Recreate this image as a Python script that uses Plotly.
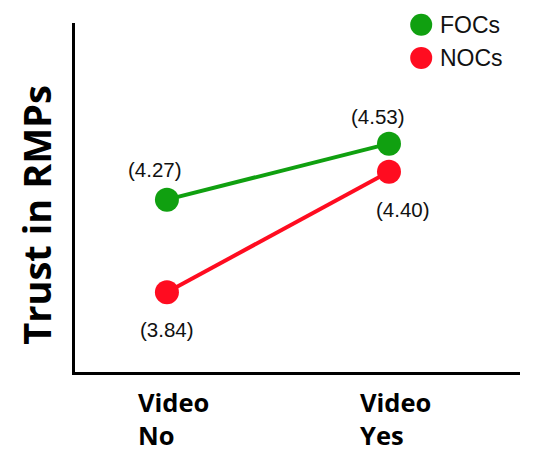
import plotly.graph_objects as go

categories = ["Video No", "Video Yes"]
x_labels = ["Video<br>No", "Video<br>Yes"]
series_names = ["FOCs", "NOCs"]
focs = [4.27, 4.53]
nocs = [3.84, 4.40]
colors = {"FOCs": "#10a010", "NOCs": "#ff0c20"}

fig = go.Figure()
for name, vals in [("FOCs", focs), ("NOCs", nocs)]:
    fig.add_trace(go.Scatter(
        x=categories, y=vals, mode="lines+markers", name=name,
        line=dict(color=colors[name], width=4),
        marker=dict(color=colors[name], size=24),
        showlegend=False,
    ))

# value labels
label_offsets = {
    ("FOCs", 0): (-12, 30), ("FOCs", 1): (-11, 27),
    ("NOCs", 0): (0, -37), ("NOCs", 1): (14, -38),
}
for name, vals in [("FOCs", focs), ("NOCs", nocs)]:
    for i, v in enumerate(vals):
        dx, dy = label_offsets[(name, i)]
        fig.add_annotation(x=categories[i], y=v, xref="x", yref="y",
                           text=f"({v:.2f})", showarrow=False,
                           xshift=dx, yshift=dy,
                           font=dict(family="Liberation Sans, Arial", size=20.5, color="#111"))

# x category labels (left aligned two-line)
for i, lab in enumerate(x_labels):
    fig.add_annotation(x=categories[i], y=0, xref="x", yref="paper",
                       text=lab, showarrow=False, xanchor="left", yanchor="top",
                       align="left", xshift=-31, yshift=-11,
                       font=dict(family="Open Sans", size=25.5, color="#000", weight="bold"))

# y title
fig.add_annotation(x=-0.088, y=0.45, xref="paper", yref="paper",
                   xanchor="center", yanchor="middle",
                   text="Trust in RMPs", textangle=-90, showarrow=False,
                   font=dict(family="Open Sans", size=38, color="#000", weight="bold"))

# legend (custom)
legend_y = [0.995, 0.90]
for name, ly in zip(series_names, legend_y):
    fig.add_shape(type="circle", xref="paper", yref="paper",
                  xsizemode="pixel", ysizemode="pixel",
                  xanchor=0.778, yanchor=ly,
                  x0=-11, x1=11, y0=-11, y1=11,
                  fillcolor=colors[name], line=dict(width=0))
    fig.add_annotation(x=0.815, y=ly, xref="paper", yref="paper",
                       text=name, showarrow=False, xanchor="left", yanchor="middle",
                       font=dict(family="Liberation Sans, Arial", size=23, color="#111"))

fig.update_layout(
    width=542, height=449,
    margin=dict(l=67, r=30, t=15, b=85),
    paper_bgcolor="white", plot_bgcolor="white",
    xaxis=dict(type="category", categoryorder="array", categoryarray=categories,
               range=[-0.414, 1.59], showticklabels=False, showgrid=False, zeroline=False,
               showline=True, linecolor="#000", linewidth=3, ticks=""),
    yaxis=dict(range=[3.47, 5.09], showticklabels=False, showgrid=False, zeroline=False,
               showline=True, linecolor="#000", linewidth=3, ticks=""),
)
fig.write_html("out.html")
